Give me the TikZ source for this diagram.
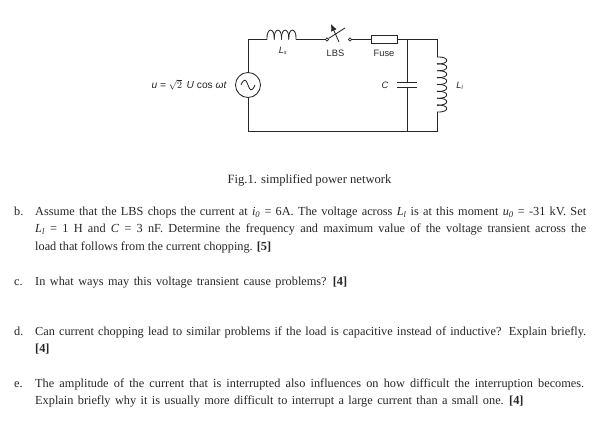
\documentclass[tikz,border=0pt]{standalone}
\usepackage{fontspec}
\setmainfont{Liberation Serif}
\setsansfont{Liberation Sans}
\usetikzlibrary{arrows.meta}
\definecolor{ink}{gray}{0.15}
\tikzset{
  wire/.style={draw=ink,line width=0.85pt},
  para/.style={inner sep=0pt,anchor=north west,align=justify,text=ink,font=\fontsize{12.3}{17.2}\selectfont},
  itemlabel/.style={inner sep=0pt,anchor=north west,text=ink,font=\fontsize{12.3}{17.2}\selectfont},
  lab/.style={inner sep=0pt,text=ink,font=\sffamily\fontsize{9.3}{11}\selectfont},
  terminal/.style={circle,draw=ink,line width=0.6pt,fill=white,minimum size=3.2pt,inner sep=0pt},
}
\begin{document}
\begin{tikzpicture}[x=1pt,y=-1pt]
\useasboundingbox (0,0) rectangle (606,423);
\coordinate (tl) at (248,39.5);
\coordinate (bl) at (248,131);
\coordinate (tc) at (407,39.5);
\coordinate (bc) at (407,131);
\coordinate (tr) at (437,39.5);
\coordinate (br) at (437,131);
\coordinate (lsa) at (267,39.5);
\coordinate (lsb) at (296,39.5);
\coordinate (lla) at (437,57);
\coordinate (llb) at (437,112);
\coordinate (capt) at (407,82);
\coordinate (capb) at (407,87.5);
\coordinate (capta) at (397,82);
\coordinate (captb) at (417,82);
\coordinate (capba) at (397,87.5);
\coordinate (capbb) at (417,87.5);
\coordinate (bladeend) at (345,28);
\coordinate (arrowa) at (339,42);
\coordinate (arrowb) at (331,24);
\node[circle,draw=ink,line width=0.85pt,minimum size=25pt,inner sep=0pt] (src) at (248,85) {};
\node[terminal] (swa) at (327,39.5) {};
\node[terminal] (swb) at (350,39.5) {};
\node[draw=ink,line width=0.85pt,minimum width=26pt,minimum height=7.5pt,inner sep=0pt] (fuse) at (384,39.5) {};
% sine in source
\draw[wire] (241,85) .. controls (244,78) and (246,79) .. (248,85) .. controls (250,91) and (252,92) .. (255,85);
% wires
\draw[wire] (src.north) -- (tl) -- (lsa);
\draw[wire] (src.south) -- (bl) -- (br) -- (llb);
\draw[wire] (lsb) -- (swa);
\draw[wire] (swb) -- (fuse.west);
\draw[wire] (fuse.east) -- (tr) -- (lla);
\draw[wire] (tc) -- (capt);
\draw[wire] (capb) -- (bc);
\draw[wire] (capta) -- (captb);
\draw[wire] (capba) -- (capbb);
\draw[wire] (swa) -- (bladeend);
\draw[wire,-{Latex[length=7pt,width=6pt]}] (arrowa) -- (arrowb);
% inductors
\foreach \i in {0,...,3}{
  \pgfmathsetmacro{\xa}{267+7.25*\i}
  \pgfmathsetmacro{\xb}{\xa+7.25}
  \draw[wire] (\xa,39.5) .. controls (\xa-0.8,27) and (\xb+0.8,27) .. (\xb,39.5);
}
\foreach \i in {0,...,7}{
  \pgfmathsetmacro{\ya}{57+6.875*\i}
  \pgfmathsetmacro{\yb}{\ya+6.875}
  \draw[wire] (437,\ya) .. controls (450,\ya-0.8) and (450,\yb+0.8) .. (437,\yb);
}
% labels
\node[lab] (lbs) at (335.5,53) {LBS};
\node[lab] (fusel) at (384,53) {Fuse};
\node[lab] (cl) at (385,85) {\textit{C}};
\node[lab] (ls) at (283,50.5) {\textit{L}\textsubscript{\fontsize{5.5}{5.5}\selectfont\textit{s}}};
\node[lab] (ll) at (460,86) {\textit{L}\textsubscript{\fontsize{5.5}{5.5}\selectfont\textit{l}}};
\node[lab,anchor=east,font=\sffamily\fontsize{10.2}{11}\selectfont] (ueq) at (227,85) {\textit{u} = $\sqrt{2}$\, \textit{U} cos \textit{ωt}};
% text
\node[inner sep=0pt,anchor=north,text=ink,font=\fontsize{12.6}{17.2}\selectfont] (cap) at (309.5,171.4) {\strut Fig.1. simplified power network};
\node[itemlabel] (lb) at (14,203.4) {\strut b.};
\node[para,text width=551pt] (pb) at (35,203.4) {\strut Assume that the LBS chops the current at \textit{i}\textsubscript{\textit{0}} = 6A. The voltage across \textit{L}\textsubscript{\textit{l}} is at this moment \textit{u}\textsubscript{\textit{0}} = -31 kV. Set\linebreak
\textit{L}\textsubscript{\textit{l}} = 1 H and \textit{C} = 3 nF. Determine the frequency and maximum value of the voltage transient across the\linebreak
load that follows from the current chopping. \textbf{[5]}};
\node[itemlabel] (lc) at (14,273) {\strut c.};
\node[para,text width=551pt,align=left] (pc) at (35,273) {\strut {\spaceskip=4.5pt In what ways may this voltage transient cause problems? \textbf{[4]}}};
\node[itemlabel] (ld) at (14,323.5) {\strut d.};
\node[para,text width=551pt] (pd) at (35,323.5) {\strut Can current chopping lead to similar problems if the load is capacitive instead of inductive? Explain briefly.\linebreak
\textbf{[4]}};
\node[itemlabel] (le) at (14,375.5) {\strut e.};
\node[para,text width=549pt] (pe) at (35,375.5) {\strut The amplitude of the current that is interrupted also influences on how difficult the interruption becomes.\linebreak
{\spaceskip=4.4pt Explain briefly why it is usually more difficult to interrupt a large current than a small one. \textbf{[4]}}};
\end{tikzpicture}
\end{document}
